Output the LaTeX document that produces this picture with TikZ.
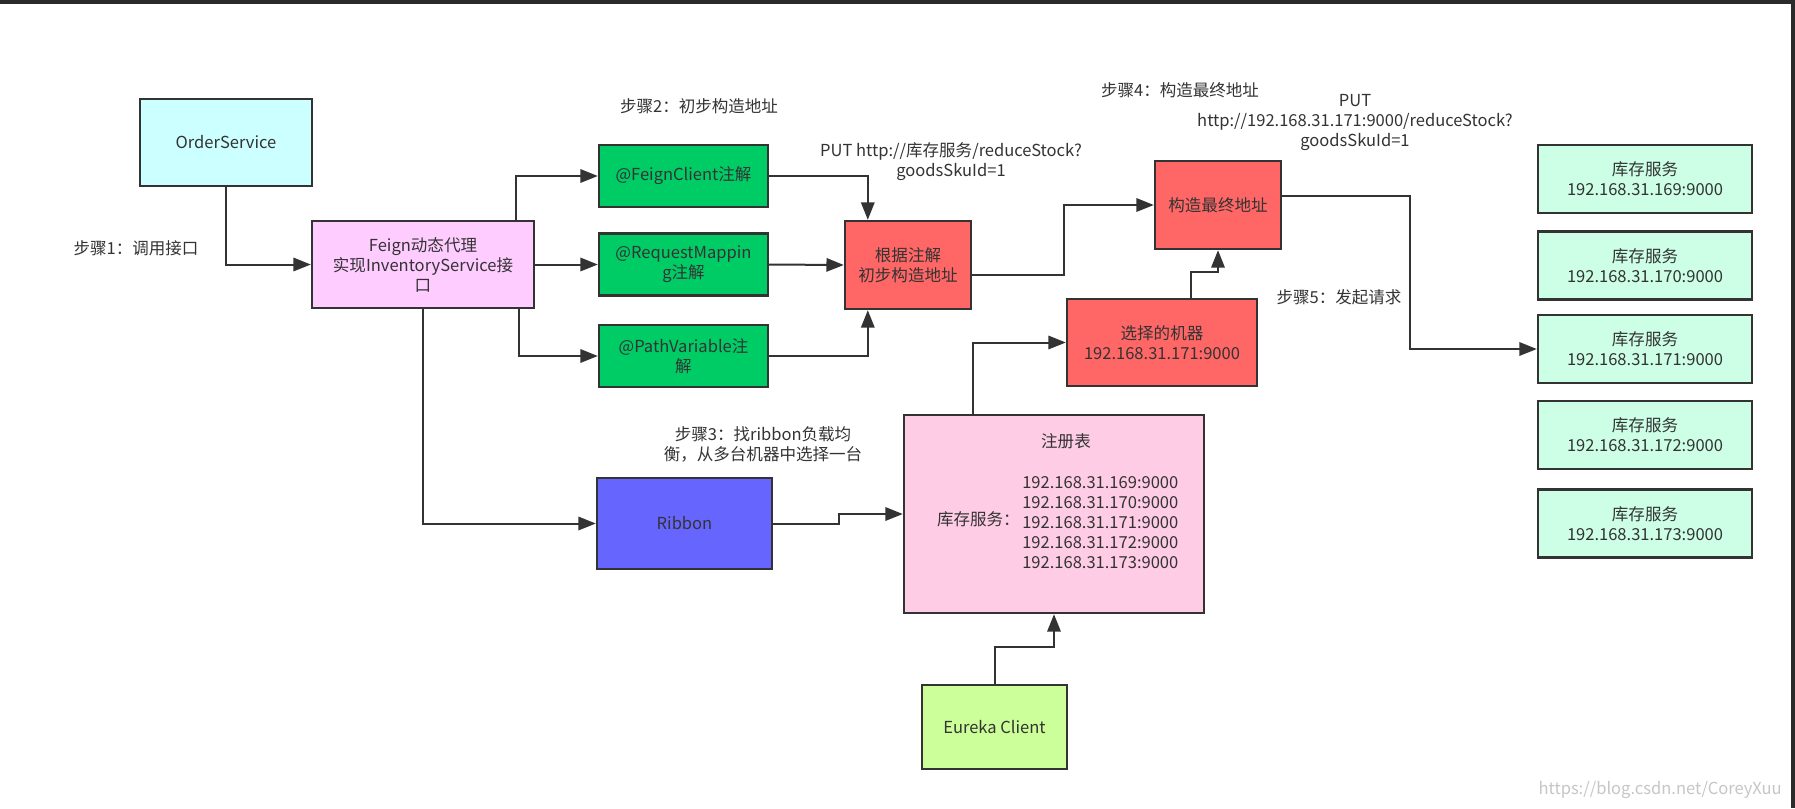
\documentclass[tikz,border=0pt]{standalone}
\usepackage{fontspec}
\setmainfont{Noto Sans CJK SC}
\usepackage{tikz}
\usetikzlibrary{arrows.meta}

\definecolor{cline}{HTML}{333333}
\definecolor{cbar}{HTML}{2B2B2B}
\definecolor{cOrder}{HTML}{CCFFFF}
\definecolor{cFeign}{HTML}{FFCCFF}
\definecolor{cAnno}{HTML}{00CC66}
\definecolor{cAddr}{HTML}{FF6666}
\definecolor{cRibbon}{HTML}{6666FF}
\definecolor{cReg}{HTML}{FFCCE6}
\definecolor{cEureka}{HTML}{CCFF99}
\definecolor{cInv}{HTML}{CCFFE6}

\tikzset{
  box/.style={draw=cline,line width=1.8pt,align=center,inner sep=2pt},
  sz/.style 2 args={minimum width=#1*0.75pt,minimum height=#2*0.75pt},
  txt/.style={align=center,inner sep=0pt},
  arr/.style={draw=cline,line width=1.5pt,-{Triangle[length=13pt,width=10pt]}}
}

\begin{document}
\begin{tikzpicture}[x=0.75pt,y=0.75pt,yscale=-1,xscale=1,
  every node/.style={font=\fontsize{12.4}{15}\selectfont,text=cline}]
%set diagram frame
\useasboundingbox (0,0) rectangle (1795,808);
\fill[white] (0,0) rectangle (1795,808);
\fill[cbar] (0,0) rectangle (1795,4);
\fill[cbar] (1791,0) rectangle (1795,808);

%Shape: Rectangle
\node [box,fill=cOrder,sz={172}{87}] (os) at (226,142.5) {OrderService};
%Shape: Rectangle
\node [box,fill=cFeign,sz={222}{87}] (feign) at (423,264.5) {Feign动态代理\\实现InventoryService接\\口};
%Shape: Rectangle
\node [box,fill=cAnno,sz={169}{62}] (fc) at (683.5,176) {@FeignClient注解};
%Shape: Rectangle
\node [box,fill=cAnno,sz={169}{62}] (rm) at (683.5,264.5) {@RequestMappin\\g注解};
%Shape: Rectangle
\node [box,fill=cAnno,sz={169}{62}] (pv) at (683.5,356) {@PathVariable注\\解};
%Shape: Rectangle
\node [box,fill=cAddr,sz={126}{88}] (addr) at (908,265) {根据注解\\初步构造地址};
%Shape: Rectangle
\node [box,fill=cAddr,sz={126}{88}] (final) at (1218,205) {构造最终地址};
%Shape: Rectangle
\node [box,fill=cAddr,sz={190}{87}] (pick) at (1162,342.5) {选择的机器\\192.168.31.171:9000};
%Shape: Rectangle
\node [box,fill=cRibbon,sz={175}{91}] (ribbon) at (684.5,523.5) {Ribbon};
%Shape: Rectangle
\node [box,fill=cReg,sz={300}{198}] (reg) at (1054,514) {};
%Shape: Rectangle
\node [box,fill=cEureka,sz={145}{84}] (eureka) at (994.5,727) {Eureka Client};

%Shape: Rectangle
\node [box,fill=cInv,sz={214}{68}] (inv1) at (1645,179) {库存服务\\192.168.31.169:9000};
%Shape: Rectangle
\node [box,fill=cInv,sz={214}{68}] (inv2) at (1645,265.5) {库存服务\\192.168.31.170:9000};
%Shape: Rectangle
\node [box,fill=cInv,sz={214}{68}] (inv3) at (1645,349) {库存服务\\192.168.31.171:9000};
%Shape: Rectangle
\node [box,fill=cInv,sz={214}{68}] (inv4) at (1645,435) {库存服务\\192.168.31.172:9000};
%Shape: Rectangle
\node [box,fill=cInv,sz={214}{68}] (inv5) at (1645,523.5) {库存服务\\192.168.31.173:9000};

% Text Node
\node [txt] (regtitle) at (1066,441) {注册表};
% Text Node
\node [txt,anchor=east] (reglabel) at (1020,519) {库存服务：};
% Text Node
\node [txt,anchor=west,align=left] (reglist) at (1022,523) {192.168.31.169:9000\\192.168.31.170:9000\\192.168.31.171:9000\\192.168.31.172:9000\\192.168.31.173:9000};

%Connectors
\draw [arr] (os.south) |- (feign.west);
\draw [arr] ([xshift=-14.25pt]feign.north east) |- (fc.west);
\draw [arr] (feign.east) -- (rm.west);
\draw [arr] ([xshift=-12pt]feign.south east) |- (pv.west);
\draw [arr] (feign.south) |- (ribbon.west);
\draw [arr] (fc.east) -| ([xshift=18pt]addr.north west);
\draw [arr] (rm.east) -- (addr.west);
\draw [arr] (pv.east) -| ([xshift=18pt]addr.south west);
\draw [arr] ([yshift=7.5pt]addr.east) -- ++(92,0) |- (final.west);
\draw [arr] ([xshift=21.75pt]pick.north) -- ++(0,-26) -| (final.south);
\draw [arr] ([yshift=-6.75pt]final.east) -- ++(128,0) |- (inv3.west);
\draw [arr] ([xshift=52.5pt]reg.north west) |- (pick.west);
\draw [arr] (ribbon.east) -- ++(66,0) |- (reg.west);
\draw [arr] (eureka.north) -- ++(0,-37) -| (reg.south);

% Text Node
\node [txt] (step1) at (136,248) {步骤1：调用接口};
% Text Node
\node [txt] (step2) at (699,106) {步骤2：初步构造地址};
% Text Node
\node [txt] (put1) at (951,162) {PUT http://库存服务/reduceStock?\\goodsSkuId=1};
% Text Node
\node [txt] (step3) at (763,444) {步骤3：找ribbon负载均\\衡，从多台机器中选择一台};
% Text Node
\node [txt] (step4) at (1180,90) {步骤4：构造最终地址};
% Text Node
\node [txt] (put2) at (1355,122) {PUT\\http://192.168.31.171:9000/reduceStock?\\goodsSkuId=1};
% Text Node
\node [txt] (step5) at (1339,297) {步骤5：发起请求};
% Text Node
\node [txt,anchor=east,text=gray!45] (mark) at (1782,790) {https://blog.csdn.net/CoreyXuu};

\end{tikzpicture}
\end{document}
